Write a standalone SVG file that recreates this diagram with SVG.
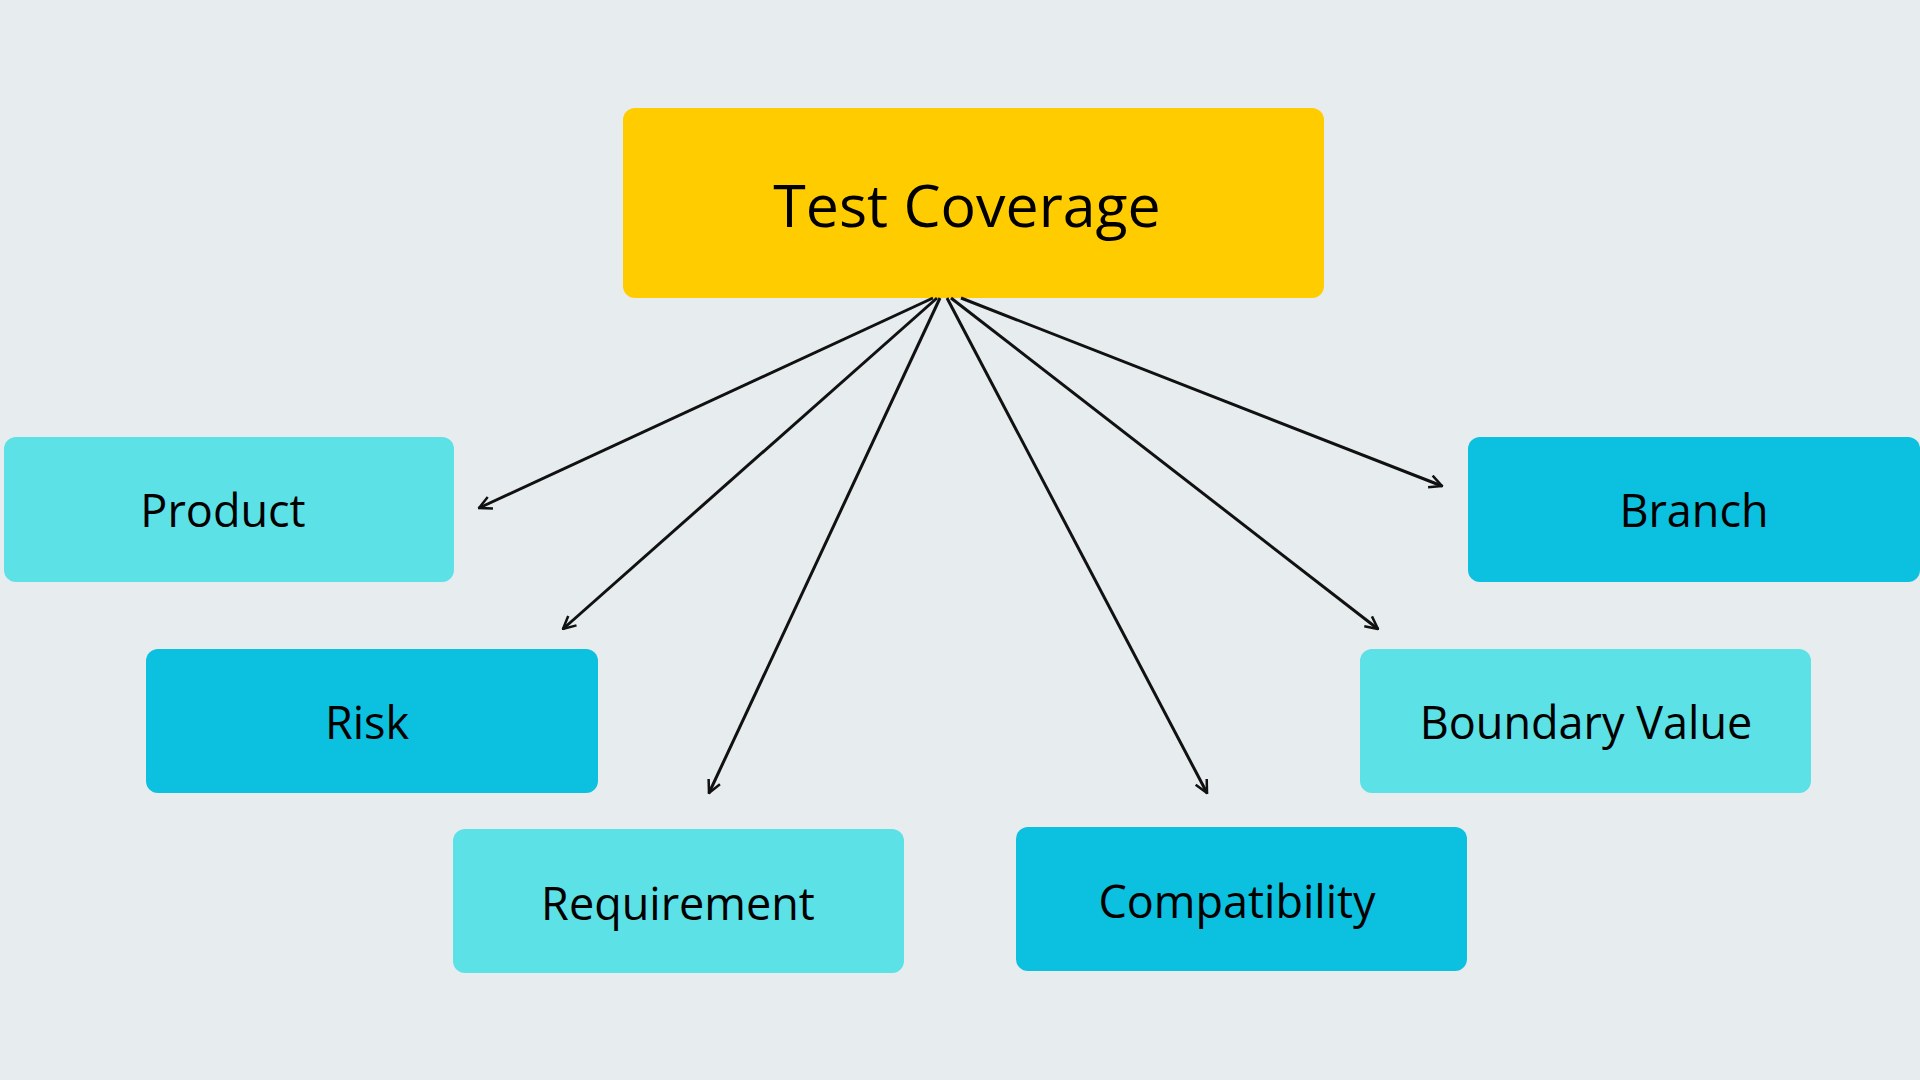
<svg xmlns="http://www.w3.org/2000/svg" width="1920" height="1080" viewBox="0 0 1920 1080">
<style>
.t{font-family:"Open Sans","Noto Sans",sans-serif;fill:#000;text-anchor:middle;dominant-baseline:central}
.s{font-size:45px}
.l{fill:#5CE1E6}.d{fill:#0CC0DF}
.c line{stroke:#111;stroke-width:3;marker-end:url(#a)}
</style>
<defs><marker id="a" viewBox="0 0 12 12" refX="11" refY="6" markerWidth="5" markerHeight="5" orient="auto" markerUnits="strokeWidth"><path d="M1 1 L11 6 L1 11" fill="none" stroke="#111" stroke-width="2"/></marker></defs>
<rect width="1920" height="1080" fill="#E7ECEE"/>
<g id="test-coverage"><rect x="623" y="108" width="701" height="190" rx="12" fill="#FFCC00"/><text class="t" x="967" y="204" font-size="59">Test Coverage</text></g>
<g id="product"><rect class="l" x="4" y="437" width="450" height="145" rx="12"/><text class="t s" x="223" y="509">Product</text></g>
<g id="risk"><rect class="d" x="146" y="649" width="452" height="144" rx="12"/><text class="t s" x="367" y="721">Risk</text></g>
<g id="requirement"><rect class="l" x="453" y="829" width="451" height="144" rx="12"/><text class="t s" x="678" y="902">Requirement</text></g>
<g id="compatibility"><rect class="d" x="1016" y="827" width="451" height="144" rx="12"/><text class="t s" x="1237" y="900">Compatibility</text></g>
<g id="boundary-value"><rect class="l" x="1360" y="649" width="451" height="144" rx="12"/><text class="t s" x="1586" y="721">Boundary Value</text></g>
<g id="branch"><rect class="d" x="1468" y="437" width="452" height="145" rx="12"/><text class="t s" x="1694" y="509">Branch</text></g>
<g class="c" id="connectors">
<line x1="933" y1="298" x2="479" y2="508"/>
<line x1="937" y1="298" x2="563" y2="629"/>
<line x1="940" y1="298" x2="709" y2="793"/>
<line x1="947" y1="298" x2="1207" y2="793"/>
<line x1="951" y1="298" x2="1378" y2="629"/>
<line x1="961" y1="298" x2="1442" y2="486"/>
</g>
</svg>
